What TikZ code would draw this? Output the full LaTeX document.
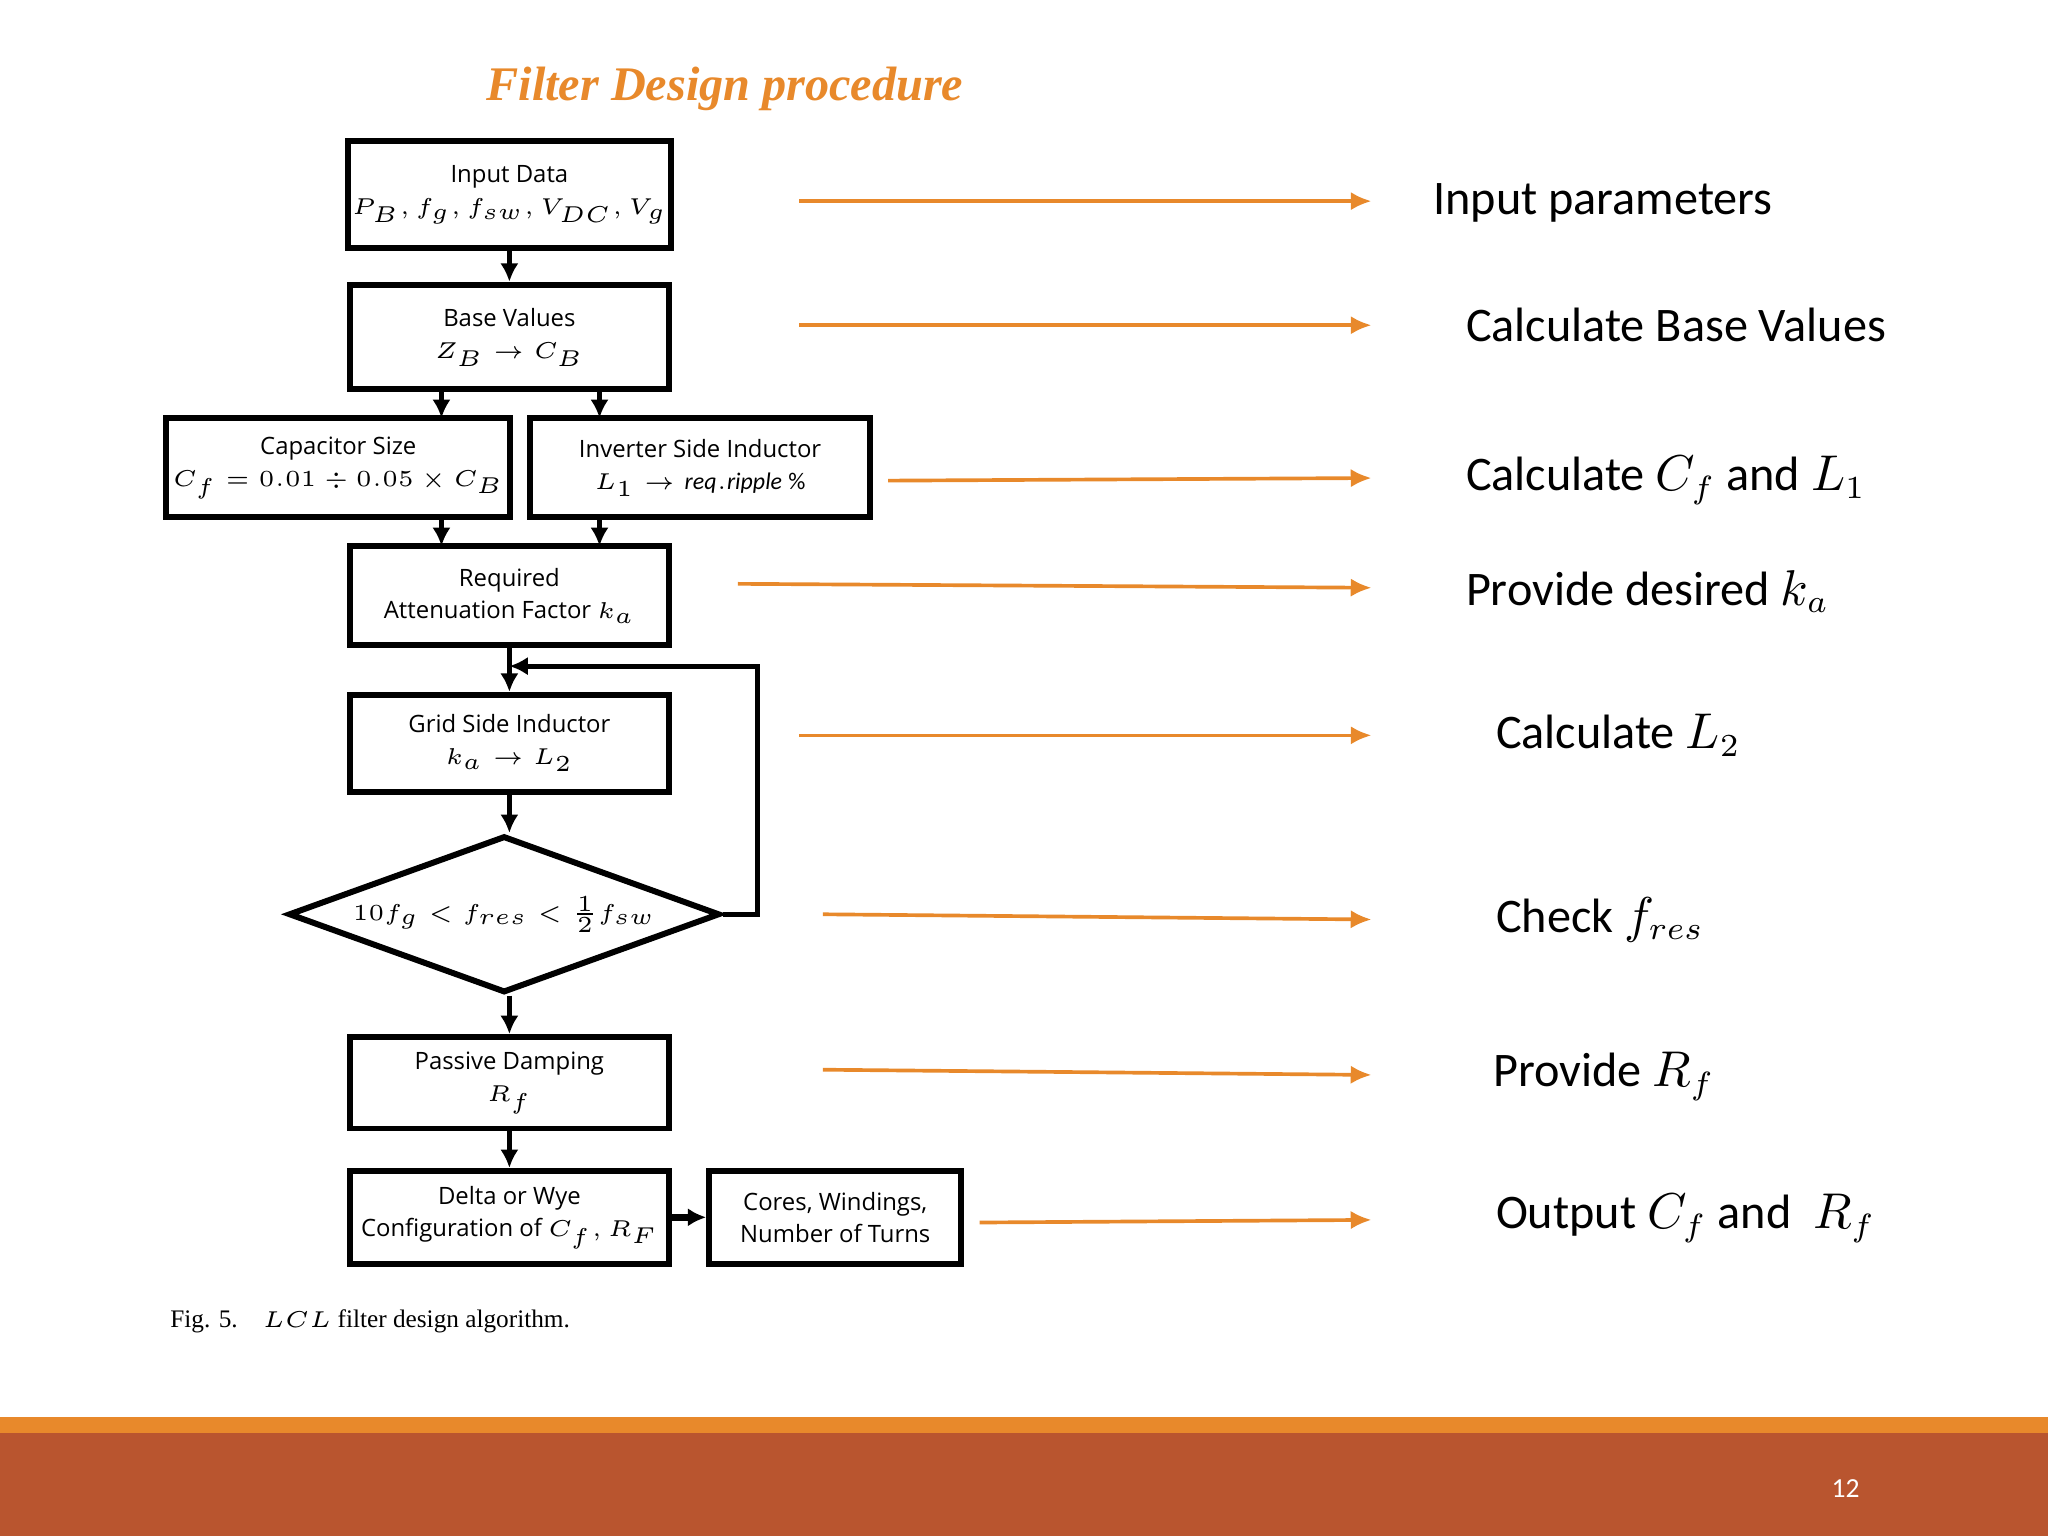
\documentclass[tikz,border=0pt]{standalone}
\usepackage{fontspec}
\setmainfont{Carlito}
\newfontfamily\boxfont{Open Sans}
\newfontfamily\capfont{Liberation Serif}
\usetikzlibrary{arrows.meta,shapes.geometric}
\definecolor{orng}{HTML}{E8892B}
\definecolor{brwn}{HTML}{B9552F}
\begin{document}
\begin{tikzpicture}[x=0.01cm,y=-0.01cm,
  fbox/.style={draw,line width=1.3pt,minimum width=2.44cm,align=center,font=\boxfont\fontsize{5.2pt}{7pt}\selectfont,inner sep=1pt},
  conn/.style={-{Latex[length=4pt,width=4pt]},line width=1.1pt},
  oarr/.style={orng,line width=0.8pt,-{Latex[length=4.5pt,width=4pt]}},
  rlab/.style={anchor=west,font=\fontsize{10.5pt}{12pt}\selectfont}]
\useasboundingbox (0,0) rectangle (1568,1176);
\fill[white] (0,0) rectangle (1568,1176);
\fill[orng] (0,1085) rectangle (1568,1097);
\fill[brwn] (0,1097) rectangle (1568,1176);
\node[white,font=\fontsize{6pt}{7pt}\selectfont] (pg) at (1413,1140) {12};
\node[orng,font=\capfont\bfseries\itshape\fontsize{10.5pt}{12pt}\selectfont] (title) at (555,68) {Filter Design procedure};

\node[fbox,minimum height=0.82cm] (in) at (390,149) {Input Data\\$P_B,f_g,f_{sw},V_{DC},V_g$};
\node[fbox,minimum height=0.80cm] (base) at (390,258) {Base Values\\$Z_B\rightarrow C_B$};
\node[fbox,minimum width=2.63cm,minimum height=0.76cm] (cap) at (259,358) {Capacitor Size\\$C_f=0.01\div0.05\times C_B$};
\node[fbox,minimum width=2.60cm,minimum height=0.76cm] (inv) at (536,358) {Inverter Side Inductor\\$L_1\rightarrow \mathit{req.ripple}\ \%$};
\node[fbox,minimum height=0.76cm] (req) at (390,456) {Required\\Attenuation Factor $k_a$};
\node[fbox,minimum height=0.74cm] (grid) at (390,569) {Grid Side Inductor\\$k_a\rightarrow L_2$};
\node[draw,line width=1.3pt,diamond,aspect=2.75,minimum width=3.3cm,minimum height=1.2cm,inner sep=0pt,font=\boxfont\fontsize{5.2pt}{7pt}\selectfont] (dia) at (386,700) {$10f_g<f_{res}<\frac{1}{2}f_{sw}$};
\node[fbox,minimum height=0.70cm] (pd) at (390,829) {Passive Damping\\$R_f$};
\node[fbox,minimum height=0.71cm] (dw) at (390,932) {Delta or Wye\\Configuration of $C_f,R_F$};
\node[fbox,minimum width=1.93cm,minimum height=0.71cm] (core) at (639.5,932) {Cores, Windings,\\Number of Turns};
\node[anchor=west,font=\capfont\fontsize{5.5pt}{7pt}\selectfont] (fig) at (118,1012) {Fig. 5.\quad $LCL$ filter design algorithm.};

\draw[conn] (in) -- (base);
\draw[conn] (338,298) -- (338,320);
\draw[conn] (459,298) -- (459,320);
\draw[conn] (338,396) -- (338,418);
\draw[conn] (459,396) -- (459,418);
\draw[conn] (req) -- (grid);
\draw[conn] (grid.south) -- (dia.north -| grid.south);
\draw[conn] (dia.south -| pd.north) -- (pd.north);
\draw[conn] (pd) -- (dw);
\draw[conn,line width=1.5pt] (dw) -- (core);
\coordinate (lp) at (390,510);
\draw[conn] (dia.east) -- (580,700) -- (580,510) -- (lp);

\coordinate (a1) at (612,154); \coordinate (b1) at (1050,154);
\coordinate (a2) at (612,249); \coordinate (b2) at (1050,249);
\coordinate (a3) at (680,368); \coordinate (b3) at (1050,366);
\coordinate (a4) at (565,447); \coordinate (b4) at (1050,450);
\coordinate (a5) at (612,563); \coordinate (b5) at (1050,563);
\coordinate (a6) at (630,700); \coordinate (b6) at (1050,704);
\coordinate (a7) at (630,819); \coordinate (b7) at (1050,823);
\coordinate (a8) at (750,936); \coordinate (b8) at (1050,934);
\foreach \i in {1,...,8} \draw[oarr] (a\i) -- (b\i);

\node[rlab] (l1) at (1085,155) {Input parameters};
\node[rlab] (l2) at (1110,249) {Calculate Base Values};
\node[rlab] (l3) at (1110,368) {Calculate $C_f$ and $L_1$};
\node[rlab] (l4) at (1110,453) {Provide desired $k_a$};
\node[rlab] (l5) at (1133,563) {Calculate $L_2$};
\node[rlab] (l6) at (1133,704) {Check $f_{res}$};
\node[rlab] (l7) at (1131,824) {Provide $R_f$};
\node[rlab] (l8) at (1133,933) {Output $C_f$ and \ $R_f$};
\end{tikzpicture}
\end{document}
